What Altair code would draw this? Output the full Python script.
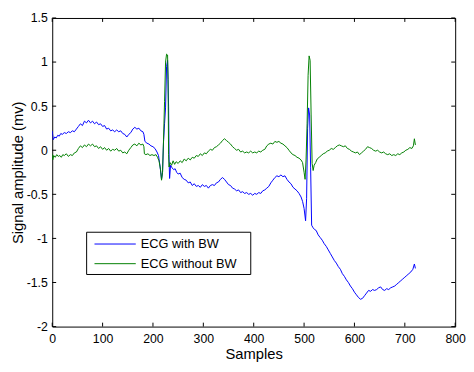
import altair as alt
import pandas as pd

# ---- data ----
blue_x = [0, 2, 5, 8, 11, 14, 17, 20, 24, 28, 32, 36, 40, 44, 48, 52, 56, 60, 64, 68, 72, 76, 80, 84, 88, 92, 96,
          100, 104, 108, 112, 116, 120, 124, 128, 132, 136, 140, 144, 148, 152, 156, 160, 164, 168, 172, 176, 180,
          182, 184, 188, 192, 196, 200, 204, 208, 211, 214, 217, 219, 221, 223, 225, 227, 229, 231, 232, 233, 235,
          238, 241, 244, 247, 250, 254, 258, 262, 266, 270, 274, 278, 282, 286, 290, 294, 298, 302, 306, 310, 314,
          318, 322, 326, 330, 334, 338, 342, 346, 350, 354, 358, 362, 366, 370, 374, 378, 382, 386, 390, 394, 398,
          402, 406, 410, 414, 418, 422, 426, 430, 434, 438, 442, 446, 450, 454, 458, 462, 466, 470, 474, 478, 482,
          486, 490, 494, 497, 500, 503, 505, 507, 509, 511, 513, 515, 518, 521, 524, 528, 532, 536, 540, 544, 548,
          552, 556, 560, 564, 568, 572, 576, 580, 584, 588, 592, 596, 600, 604, 608, 612, 616, 620, 624, 628, 632,
          636, 640, 644, 648, 652, 656, 660, 664, 668, 672, 676, 680, 684, 688, 692, 696, 700, 704, 708, 712, 716,
          719, 721]
blue_y = [0.22, 0.12, 0.15, 0.14, 0.17, 0.16, 0.19, 0.18, 0.20, 0.19, 0.21, 0.20, 0.22, 0.21, 0.24, 0.27, 0.30,
          0.28, 0.33, 0.31, 0.34, 0.31, 0.33, 0.30, 0.32, 0.29, 0.30, 0.27, 0.28, 0.24, 0.25, 0.22, 0.23, 0.21, 0.23,
          0.21, 0.22, 0.19, 0.18, 0.15, 0.18, 0.20, 0.24, 0.26, 0.24, 0.25, 0.22, 0.21, 0.18, 0.10, 0.08, 0.07, 0.05,
          0.04, 0.02, -0.02, -0.06, -0.18, -0.33, -0.25, 0.10, 0.30, 0.48, 0.95, 1.02, 0.50, -0.10, -0.32, -0.17,
          -0.20, -0.22, -0.21, -0.25, -0.27, -0.26, -0.31, -0.33, -0.34, -0.37, -0.36, -0.40, -0.38, -0.41, -0.40,
          -0.42, -0.39, -0.41, -0.40, -0.43, -0.40, -0.39, -0.40, -0.37, -0.36, -0.33, -0.31, -0.33, -0.36, -0.39,
          -0.40, -0.43, -0.44, -0.46, -0.45, -0.48, -0.47, -0.49, -0.48, -0.50, -0.49, -0.51, -0.49, -0.50, -0.48,
          -0.49, -0.46, -0.45, -0.43, -0.41, -0.37, -0.34, -0.31, -0.29, -0.30, -0.28, -0.30, -0.29, -0.33, -0.36,
          -0.38, -0.42, -0.44, -0.46, -0.49, -0.53, -0.58, -0.66, -0.80, -0.55, 0.25, 0.48, 0.40, -0.20, -0.85,
          -0.88, -0.90, -0.91, -0.96, -0.99, -1.02, -1.06, -1.09, -1.13, -1.17, -1.21, -1.25, -1.28, -1.32, -1.35,
          -1.40, -1.43, -1.47, -1.50, -1.54, -1.57, -1.61, -1.64, -1.67, -1.69, -1.68, -1.65, -1.62, -1.59, -1.60,
          -1.58, -1.59, -1.58, -1.56, -1.55, -1.58, -1.59, -1.57, -1.58, -1.56, -1.55, -1.54, -1.52, -1.50, -1.48,
          -1.46, -1.44, -1.42, -1.40, -1.38, -1.35, -1.29, -1.34]

green_x = [0, 1, 3, 6, 9, 12, 15, 18, 21, 24, 28, 32, 36, 40, 44, 48, 52, 56, 60, 64, 68, 72, 76, 80, 84, 88, 92,
           96, 100, 104, 108, 112, 116, 120, 124, 128, 132, 136, 140, 144, 148, 152, 156, 160, 164, 168, 172, 176,
           180, 182, 183, 186, 190, 194, 198, 202, 206, 209, 212, 215, 217, 219, 221, 223, 225, 227, 229, 230, 231,
           232, 234, 237, 240, 243, 246, 250, 254, 258, 262, 266, 270, 274, 278, 282, 286, 290, 294, 298, 302, 306,
           310, 314, 318, 322, 326, 330, 334, 338, 342, 346, 350, 354, 358, 362, 366, 370, 374, 378, 382, 386, 390,
           394, 398, 402, 406, 410, 414, 418, 422, 426, 430, 434, 438, 442, 446, 450, 454, 458, 462, 466, 470, 474,
           478, 482, 486, 490, 494, 497, 500, 502, 504, 506, 508, 510, 512, 514, 516, 518, 520, 523, 526, 530, 534,
           538, 542, 546, 550, 554, 558, 562, 566, 570, 574, 578, 582, 586, 590, 594, 598, 602, 606, 610, 614, 618,
           622, 626, 630, 634, 638, 642, 646, 650, 654, 658, 662, 666, 670, 674, 678, 682, 686, 690, 694, 698, 702,
           706, 710, 714, 717, 719, 721]
green_y = [-0.04, -0.11, -0.06, -0.08, -0.05, -0.07, -0.06, -0.08, -0.05, -0.06, -0.04, -0.07, -0.05, -0.06,
           -0.03, -0.02, 0.02, 0.05, 0.03, 0.06, 0.04, 0.07, 0.05, 0.07, 0.04, 0.05, 0.02, 0.04, 0.01, 0.03, 0.00,
           0.02, -0.01, 0.01, 0.00, 0.02, -0.01, 0.00, -0.03, -0.02, -0.04, 0.00, 0.03, 0.06, 0.07, 0.05, 0.08, 0.06,
           0.07, 0.04, -0.04, -0.05, -0.04, -0.06, -0.05, -0.06, -0.05, -0.08, -0.12, -0.22, -0.34, -0.25, 0.12,
           0.55, 1.00, 1.09, 1.08, 0.80, -0.05, -0.19, -0.14, -0.17, -0.12, -0.16, -0.13, -0.15, -0.12, -0.14,
           -0.10, -0.12, -0.09, -0.11, -0.08, -0.09, -0.06, -0.07, -0.04, -0.06, -0.03, -0.04, -0.01, 0.01, 0.00,
           0.03, 0.04, 0.06, 0.08, 0.11, 0.13, 0.11, 0.09, 0.07, 0.04, 0.02, 0.00, 0.01, -0.02, -0.01, -0.03, -0.02,
           -0.03, -0.01, -0.03, -0.02, -0.03, -0.01, -0.02, 0.00, 0.01, 0.05, 0.07, 0.08, 0.07, 0.10, 0.09, 0.10,
           0.08, 0.07, 0.05, 0.03, 0.00, -0.03, -0.05, -0.06, -0.08, -0.09, -0.11, -0.14, -0.25, -0.33, -0.10, 0.30,
           0.85, 1.07, 1.02, 0.40, -0.15, -0.23, -0.17, -0.14, -0.10, -0.08, -0.06, -0.04, -0.03, -0.01, 0.00, 0.02,
           0.01, 0.03, 0.05, 0.06, 0.05, 0.04, 0.05, 0.02, 0.01, -0.01, -0.02, -0.03, -0.02, -0.05, -0.03, -0.01,
           0.01, 0.04, 0.03, 0.02, 0.00, -0.01, 0.00, -0.02, -0.03, -0.02, -0.04, -0.05, -0.04, -0.06, -0.05, -0.06,
           -0.04, -0.05, -0.03, -0.02, 0.00, 0.01, 0.03, 0.02, 0.05, 0.13, 0.06]

series_names = ["ECG with BW", "ECG without BW"]
series_colors = ["#0000ff", "#008000"]

x_ticks = [0, 100, 200, 300, 400, 500, 600, 700, 800]
y_ticks = [-2, -1.5, -1, -0.5, 0, 0.5, 1, 1.5]

# ---- tables ----
df_blue = pd.DataFrame({"Samples": blue_x, "amp": blue_y, "series": series_names[0], "ord": range(len(blue_x))})
df_green = pd.DataFrame({"Samples": green_x, "amp": green_y, "series": series_names[1], "ord": range(len(green_x))})
xt = pd.DataFrame({"t": x_ticks})
yt = pd.DataFrame({"t": y_ticks})

W, H = 410, 314
FONT = "Liberation Sans"

xscale = alt.Scale(domain=[0, 800], nice=False, zero=False)
yscale = alt.Scale(domain=[-2, 1.5], nice=False, zero=False)
cscale = alt.Scale(domain=series_names, range=series_colors)

xaxis = alt.Axis(values=x_ticks, title="Samples", tickSize=0, labelPadding=6, titlePadding=2,
                 labelFlush=False, domain=False, grid=False, labelExpr="'' + datum.value")
yaxis = alt.Axis(values=y_ticks, title="Signal amplitude (mv)", tickSize=0, labelPadding=5,
                 titlePadding=1, domain=False, grid=False, labelExpr="'' + datum.value")


def series_line(d):
    return alt.Chart(d).mark_line(strokeWidth=1, clip=True).encode(
        x=alt.X("Samples:Q", scale=xscale, axis=xaxis),
        y=alt.Y("amp:Q", scale=yscale, axis=yaxis),
        color=alt.Color("series:N", scale=cscale, legend=None),
        order="ord:Q",
    )


line_blue = series_line(df_blue)
line_green = series_line(df_green)

tick_len = 4
xb = alt.Chart(xt).mark_rule(color="black", strokeWidth=1).encode(
    x=alt.X("t:Q", scale=xscale, axis=xaxis), y=alt.value(H), y2=alt.value(H - tick_len))
xtop = alt.Chart(xt).mark_rule(color="black", strokeWidth=1).encode(
    x=alt.X("t:Q", scale=xscale, axis=xaxis), y=alt.value(0), y2=alt.value(tick_len))
yl = alt.Chart(yt).mark_rule(color="black", strokeWidth=1).encode(
    y=alt.Y("t:Q", scale=yscale, axis=yaxis), x=alt.value(0), x2=alt.value(tick_len))
yr = alt.Chart(yt).mark_rule(color="black", strokeWidth=1).encode(
    y=alt.Y("t:Q", scale=yscale, axis=yaxis), x=alt.value(W), x2=alt.value(W - tick_len))

# ---- legend box (drawn as marks) ----
LX, LY, LW, LH = 35, 218, 167, 43
leg_box = alt.Chart(pd.DataFrame({"series": series_names[:1]})).mark_rect(
    fill="white", stroke="black", strokeWidth=1).encode(
    x=alt.value(LX), x2=alt.value(LX + LW), y=alt.value(LY), y2=alt.value(LY + LH))
leg_layers = [leg_box]
for i, (name, col) in enumerate(zip(series_names, series_colors)):
    ydat = pd.DataFrame({"series": [name]})
    yy = LY + 12 + 20 * i
    leg_layers.append(alt.Chart(ydat).mark_rule(color=col, strokeWidth=1).encode(
        x=alt.value(LX + 8), x2=alt.value(LX + 50), y=alt.value(yy)))
    leg_layers.append(alt.Chart(ydat).mark_text(
        align="left", baseline="middle", font=FONT, fontSize=13, color="black").encode(
        x=alt.value(LX + 55), y=alt.value(yy), text="series:N"))

chart = alt.layer(line_blue, line_green, xb, xtop, yl, yr, *leg_layers).properties(
    width=W, height=H,
    autosize=alt.AutoSizeParams(type="none"),
    padding={"left": 45, "top": 7, "right": 11, "bottom": 40},
    background="white",
).configure_view(stroke="black", strokeWidth=1).configure_axis(
    labelFont=FONT, titleFont=FONT, labelFontSize=12.5, titleFontSize=15,
    labelColor="black", titleColor="black", titleFontWeight="normal",
)

chart.save("out.html", embed_options={"renderer": "svg", "actions": False})
